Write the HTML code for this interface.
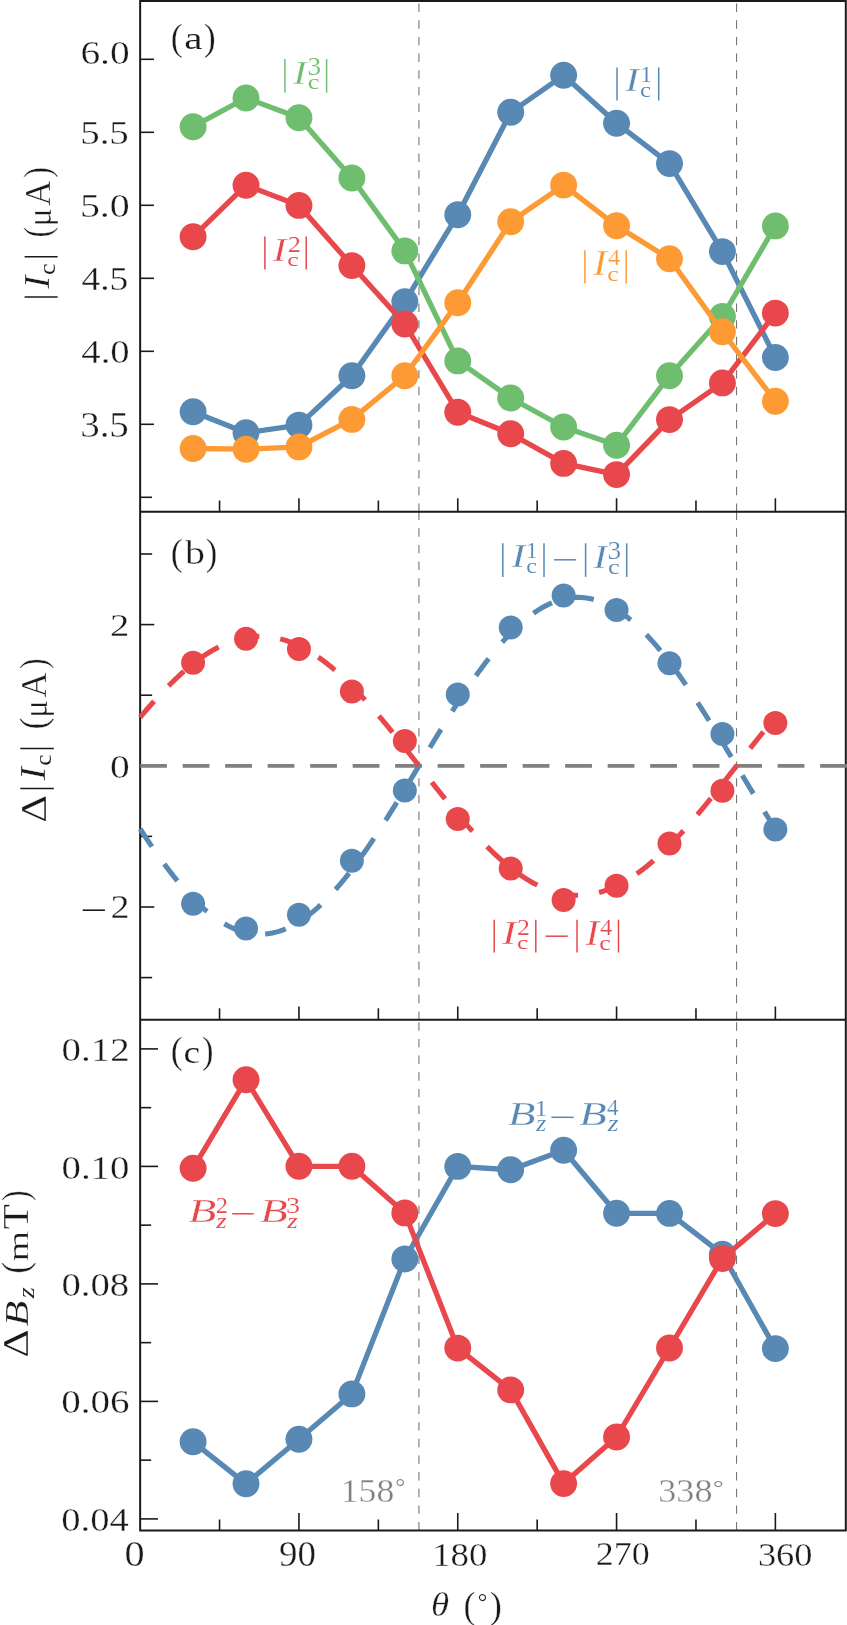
<!DOCTYPE html>
<html><head><meta charset="utf-8"><style>html,body{margin:0;padding:0;background:#fff;}svg{display:block;will-change:transform;font-family:"Liberation Serif",serif;}</style></head>
<body><svg width="847" height="1625" viewBox="0 0 847 1625">
<rect width="847" height="1625" fill="#fff"/>
<defs>
<clipPath id="ca"><rect x="140.15" y="1.0" width="705.65" height="510.8"/></clipPath>
<clipPath id="cb"><rect x="140.15" y="511.8" width="705.65" height="507.99999999999994"/></clipPath>
<clipPath id="cc"><rect x="140.15" y="1019.8" width="705.65" height="510.70000000000005"/></clipPath>
</defs>
<g clip-path="url(#ca)">
<line x1="418.94" y1="511.8" x2="418.94" y2="1.0" stroke="#777" stroke-width="1.1" stroke-dasharray="8.4 8.26"/>
<line x1="736.55" y1="511.8" x2="736.55" y2="1.0" stroke="#777" stroke-width="1.1" stroke-dasharray="8.4 8.26"/>
<polyline points="193.09,411.80 246.02,432.70 298.96,425.10 351.89,375.80 404.83,301.60 457.76,214.80 510.70,112.30 563.63,75.30 616.56,123.20 669.50,163.60 722.43,251.60 775.37,357.50" fill="none" stroke="#5889b4" stroke-width="5.3" stroke-linejoin="round" stroke-linecap="butt"/>
<circle cx="193.09" cy="411.80" r="13.45" fill="#5889b4"/>
<circle cx="246.02" cy="432.70" r="13.45" fill="#5889b4"/>
<circle cx="298.96" cy="425.10" r="13.45" fill="#5889b4"/>
<circle cx="351.89" cy="375.80" r="13.45" fill="#5889b4"/>
<circle cx="404.83" cy="301.60" r="13.45" fill="#5889b4"/>
<circle cx="457.76" cy="214.80" r="13.45" fill="#5889b4"/>
<circle cx="510.70" cy="112.30" r="13.45" fill="#5889b4"/>
<circle cx="563.63" cy="75.30" r="13.45" fill="#5889b4"/>
<circle cx="616.56" cy="123.20" r="13.45" fill="#5889b4"/>
<circle cx="669.50" cy="163.60" r="13.45" fill="#5889b4"/>
<circle cx="722.43" cy="251.60" r="13.45" fill="#5889b4"/>
<circle cx="775.37" cy="357.50" r="13.45" fill="#5889b4"/>
<polyline points="193.09,236.80 246.02,185.20 298.96,205.40 351.89,265.60 404.83,324.00 457.76,412.20 510.70,433.70 563.63,463.40 616.56,474.60 669.50,419.60 722.43,382.90 775.37,313.10" fill="none" stroke="#e8474c" stroke-width="5.3" stroke-linejoin="round" stroke-linecap="butt"/>
<circle cx="193.09" cy="236.80" r="13.45" fill="#e8474c"/>
<circle cx="246.02" cy="185.20" r="13.45" fill="#e8474c"/>
<circle cx="298.96" cy="205.40" r="13.45" fill="#e8474c"/>
<circle cx="351.89" cy="265.60" r="13.45" fill="#e8474c"/>
<circle cx="404.83" cy="324.00" r="13.45" fill="#e8474c"/>
<circle cx="457.76" cy="412.20" r="13.45" fill="#e8474c"/>
<circle cx="510.70" cy="433.70" r="13.45" fill="#e8474c"/>
<circle cx="563.63" cy="463.40" r="13.45" fill="#e8474c"/>
<circle cx="616.56" cy="474.60" r="13.45" fill="#e8474c"/>
<circle cx="669.50" cy="419.60" r="13.45" fill="#e8474c"/>
<circle cx="722.43" cy="382.90" r="13.45" fill="#e8474c"/>
<circle cx="775.37" cy="313.10" r="13.45" fill="#e8474c"/>
<polyline points="193.09,126.70 246.02,98.00 298.96,117.80 351.89,178.00 404.83,250.90 457.76,360.90 510.70,398.00 563.63,427.00 616.56,445.20 669.50,375.70 722.43,316.50 775.37,225.90" fill="none" stroke="#6fbd6e" stroke-width="5.3" stroke-linejoin="round" stroke-linecap="butt"/>
<circle cx="193.09" cy="126.70" r="13.45" fill="#6fbd6e"/>
<circle cx="246.02" cy="98.00" r="13.45" fill="#6fbd6e"/>
<circle cx="298.96" cy="117.80" r="13.45" fill="#6fbd6e"/>
<circle cx="351.89" cy="178.00" r="13.45" fill="#6fbd6e"/>
<circle cx="404.83" cy="250.90" r="13.45" fill="#6fbd6e"/>
<circle cx="457.76" cy="360.90" r="13.45" fill="#6fbd6e"/>
<circle cx="510.70" cy="398.00" r="13.45" fill="#6fbd6e"/>
<circle cx="563.63" cy="427.00" r="13.45" fill="#6fbd6e"/>
<circle cx="616.56" cy="445.20" r="13.45" fill="#6fbd6e"/>
<circle cx="669.50" cy="375.70" r="13.45" fill="#6fbd6e"/>
<circle cx="722.43" cy="316.50" r="13.45" fill="#6fbd6e"/>
<circle cx="775.37" cy="225.90" r="13.45" fill="#6fbd6e"/>
<polyline points="193.09,448.50 246.02,449.20 298.96,446.90 351.89,419.40 404.83,375.80 457.76,302.70 510.70,221.80 563.63,185.10 616.56,225.80 669.50,258.80 722.43,331.80 775.37,401.20" fill="none" stroke="#fd9a34" stroke-width="5.3" stroke-linejoin="round" stroke-linecap="butt"/>
<circle cx="193.09" cy="448.50" r="13.45" fill="#fd9a34"/>
<circle cx="246.02" cy="449.20" r="13.45" fill="#fd9a34"/>
<circle cx="298.96" cy="446.90" r="13.45" fill="#fd9a34"/>
<circle cx="351.89" cy="419.40" r="13.45" fill="#fd9a34"/>
<circle cx="404.83" cy="375.80" r="13.45" fill="#fd9a34"/>
<circle cx="457.76" cy="302.70" r="13.45" fill="#fd9a34"/>
<circle cx="510.70" cy="221.80" r="13.45" fill="#fd9a34"/>
<circle cx="563.63" cy="185.10" r="13.45" fill="#fd9a34"/>
<circle cx="616.56" cy="225.80" r="13.45" fill="#fd9a34"/>
<circle cx="669.50" cy="258.80" r="13.45" fill="#fd9a34"/>
<circle cx="722.43" cy="331.80" r="13.45" fill="#fd9a34"/>
<circle cx="775.37" cy="401.20" r="13.45" fill="#fd9a34"/>
</g>
<g clip-path="url(#cb)">
<line x1="418.94" y1="1019.8" x2="418.94" y2="511.8" stroke="#777" stroke-width="1.1" stroke-dasharray="8.4 8.26"/>
<line x1="736.55" y1="1019.8" x2="736.55" y2="511.8" stroke="#777" stroke-width="1.1" stroke-dasharray="8.4 8.26"/>
</g>
<g clip-path="url(#cc)">
<line x1="418.94" y1="1530.5" x2="418.94" y2="1019.8" stroke="#777" stroke-width="1.1" stroke-dasharray="8.4 8.26"/>
<line x1="736.55" y1="1530.5" x2="736.55" y2="1019.8" stroke="#777" stroke-width="1.1" stroke-dasharray="8.4 8.26"/>
<polyline points="193.09,1441.80 246.02,1483.80 298.96,1439.20 351.89,1393.90 404.83,1259.00 457.76,1166.40 510.70,1169.80 563.63,1150.20 616.56,1213.30 669.50,1213.40 722.43,1254.20 775.37,1348.60" fill="none" stroke="#5889b4" stroke-width="5.3" stroke-linejoin="round" stroke-linecap="butt"/>
<circle cx="193.09" cy="1441.80" r="13.45" fill="#5889b4"/>
<circle cx="246.02" cy="1483.80" r="13.45" fill="#5889b4"/>
<circle cx="298.96" cy="1439.20" r="13.45" fill="#5889b4"/>
<circle cx="351.89" cy="1393.90" r="13.45" fill="#5889b4"/>
<circle cx="404.83" cy="1259.00" r="13.45" fill="#5889b4"/>
<circle cx="457.76" cy="1166.40" r="13.45" fill="#5889b4"/>
<circle cx="510.70" cy="1169.80" r="13.45" fill="#5889b4"/>
<circle cx="563.63" cy="1150.20" r="13.45" fill="#5889b4"/>
<circle cx="616.56" cy="1213.30" r="13.45" fill="#5889b4"/>
<circle cx="669.50" cy="1213.40" r="13.45" fill="#5889b4"/>
<circle cx="722.43" cy="1254.20" r="13.45" fill="#5889b4"/>
<circle cx="775.37" cy="1348.60" r="13.45" fill="#5889b4"/>
<polyline points="193.09,1168.30 246.02,1079.70 298.96,1166.30 351.89,1166.30 404.83,1212.90 457.76,1348.10 510.70,1389.90 563.63,1483.60 616.56,1437.00 669.50,1348.00 722.43,1258.50 775.37,1213.60" fill="none" stroke="#e8474c" stroke-width="5.3" stroke-linejoin="round" stroke-linecap="butt"/>
<circle cx="193.09" cy="1168.30" r="13.45" fill="#e8474c"/>
<circle cx="246.02" cy="1079.70" r="13.45" fill="#e8474c"/>
<circle cx="298.96" cy="1166.30" r="13.45" fill="#e8474c"/>
<circle cx="351.89" cy="1166.30" r="13.45" fill="#e8474c"/>
<circle cx="404.83" cy="1212.90" r="13.45" fill="#e8474c"/>
<circle cx="457.76" cy="1348.10" r="13.45" fill="#e8474c"/>
<circle cx="510.70" cy="1389.90" r="13.45" fill="#e8474c"/>
<circle cx="563.63" cy="1483.60" r="13.45" fill="#e8474c"/>
<circle cx="616.56" cy="1437.00" r="13.45" fill="#e8474c"/>
<circle cx="669.50" cy="1348.00" r="13.45" fill="#e8474c"/>
<circle cx="722.43" cy="1258.50" r="13.45" fill="#e8474c"/>
<circle cx="775.37" cy="1213.60" r="13.45" fill="#e8474c"/>
</g>
<path d="M140.15,1.0 H845.8 V1530.5 H140.15 Z M140.15,511.8 H845.8 M140.15,1019.8 H845.8" fill="none" stroke="#1a1a1a" stroke-width="2.0"/>
<line x1="140.15" y1="424.30" x2="153.95" y2="424.30" stroke="#1a1a1a" stroke-width="1.6"/>
<line x1="140.15" y1="351.30" x2="153.95" y2="351.30" stroke="#1a1a1a" stroke-width="1.6"/>
<line x1="140.15" y1="278.30" x2="153.95" y2="278.30" stroke="#1a1a1a" stroke-width="1.6"/>
<line x1="140.15" y1="205.30" x2="153.95" y2="205.30" stroke="#1a1a1a" stroke-width="1.6"/>
<line x1="140.15" y1="132.30" x2="153.95" y2="132.30" stroke="#1a1a1a" stroke-width="1.6"/>
<line x1="140.15" y1="59.30" x2="153.95" y2="59.30" stroke="#1a1a1a" stroke-width="1.6"/>
<line x1="140.15" y1="497.30" x2="151.95" y2="497.30" stroke="#1a1a1a" stroke-width="1.6"/>
<line x1="140.15" y1="907.00" x2="154.25" y2="907.00" stroke="#1a1a1a" stroke-width="1.6"/>
<line x1="140.15" y1="765.80" x2="154.25" y2="765.80" stroke="#1a1a1a" stroke-width="1.6"/>
<line x1="140.15" y1="624.60" x2="154.25" y2="624.60" stroke="#1a1a1a" stroke-width="1.6"/>
<line x1="140.15" y1="977.60" x2="152.15" y2="977.60" stroke="#1a1a1a" stroke-width="1.6"/>
<line x1="140.15" y1="836.40" x2="152.15" y2="836.40" stroke="#1a1a1a" stroke-width="1.6"/>
<line x1="140.15" y1="695.20" x2="152.15" y2="695.20" stroke="#1a1a1a" stroke-width="1.6"/>
<line x1="140.15" y1="554.00" x2="152.15" y2="554.00" stroke="#1a1a1a" stroke-width="1.6"/>
<line x1="140.15" y1="1518.90" x2="158.05" y2="1518.90" stroke="#1a1a1a" stroke-width="1.6"/>
<line x1="140.15" y1="1401.40" x2="158.05" y2="1401.40" stroke="#1a1a1a" stroke-width="1.6"/>
<line x1="140.15" y1="1283.90" x2="158.05" y2="1283.90" stroke="#1a1a1a" stroke-width="1.6"/>
<line x1="140.15" y1="1166.40" x2="158.05" y2="1166.40" stroke="#1a1a1a" stroke-width="1.6"/>
<line x1="140.15" y1="1048.90" x2="158.05" y2="1048.90" stroke="#1a1a1a" stroke-width="1.6"/>
<line x1="140.15" y1="1460.15" x2="151.15" y2="1460.15" stroke="#1a1a1a" stroke-width="1.6"/>
<line x1="140.15" y1="1342.65" x2="151.15" y2="1342.65" stroke="#1a1a1a" stroke-width="1.6"/>
<line x1="140.15" y1="1225.15" x2="151.15" y2="1225.15" stroke="#1a1a1a" stroke-width="1.6"/>
<line x1="140.15" y1="1107.65" x2="151.15" y2="1107.65" stroke="#1a1a1a" stroke-width="1.6"/>
<line x1="298.96" y1="511.8" x2="298.96" y2="498.30" stroke="#1a1a1a" stroke-width="1.6"/>
<line x1="457.76" y1="511.8" x2="457.76" y2="498.30" stroke="#1a1a1a" stroke-width="1.6"/>
<line x1="616.56" y1="511.8" x2="616.56" y2="498.30" stroke="#1a1a1a" stroke-width="1.6"/>
<line x1="775.37" y1="511.8" x2="775.37" y2="498.30" stroke="#1a1a1a" stroke-width="1.6"/>
<line x1="219.55" y1="511.8" x2="219.55" y2="500.50" stroke="#1a1a1a" stroke-width="1.6"/>
<line x1="378.36" y1="511.8" x2="378.36" y2="500.50" stroke="#1a1a1a" stroke-width="1.6"/>
<line x1="537.16" y1="511.8" x2="537.16" y2="500.50" stroke="#1a1a1a" stroke-width="1.6"/>
<line x1="695.97" y1="511.8" x2="695.97" y2="500.50" stroke="#1a1a1a" stroke-width="1.6"/>
<line x1="298.96" y1="1019.8" x2="298.96" y2="1006.50" stroke="#1a1a1a" stroke-width="1.6"/>
<line x1="457.76" y1="1019.8" x2="457.76" y2="1006.50" stroke="#1a1a1a" stroke-width="1.6"/>
<line x1="616.56" y1="1019.8" x2="616.56" y2="1006.50" stroke="#1a1a1a" stroke-width="1.6"/>
<line x1="775.37" y1="1019.8" x2="775.37" y2="1006.50" stroke="#1a1a1a" stroke-width="1.6"/>
<line x1="219.55" y1="1019.8" x2="219.55" y2="1008.30" stroke="#1a1a1a" stroke-width="1.6"/>
<line x1="378.36" y1="1019.8" x2="378.36" y2="1008.30" stroke="#1a1a1a" stroke-width="1.6"/>
<line x1="537.16" y1="1019.8" x2="537.16" y2="1008.30" stroke="#1a1a1a" stroke-width="1.6"/>
<line x1="695.97" y1="1019.8" x2="695.97" y2="1008.30" stroke="#1a1a1a" stroke-width="1.6"/>
<line x1="298.96" y1="1530.5" x2="298.96" y2="1513.00" stroke="#1a1a1a" stroke-width="1.6"/>
<line x1="457.76" y1="1530.5" x2="457.76" y2="1513.00" stroke="#1a1a1a" stroke-width="1.6"/>
<line x1="616.56" y1="1530.5" x2="616.56" y2="1513.00" stroke="#1a1a1a" stroke-width="1.6"/>
<line x1="775.37" y1="1530.5" x2="775.37" y2="1513.00" stroke="#1a1a1a" stroke-width="1.6"/>
<line x1="219.55" y1="1530.5" x2="219.55" y2="1519.50" stroke="#1a1a1a" stroke-width="1.6"/>
<line x1="378.36" y1="1530.5" x2="378.36" y2="1519.50" stroke="#1a1a1a" stroke-width="1.6"/>
<line x1="537.16" y1="1530.5" x2="537.16" y2="1519.50" stroke="#1a1a1a" stroke-width="1.6"/>
<line x1="695.97" y1="1530.5" x2="695.97" y2="1519.50" stroke="#1a1a1a" stroke-width="1.6"/>
<clipPath id="cb2"><rect x="130" y="512.8" width="717" height="505.99999999999994"/></clipPath>
<g clip-path="url(#cb2)">
<line x1="140.15" y1="765.8" x2="847" y2="765.8" stroke="#808080" stroke-width="3.7" stroke-dasharray="26.8 15.7"/>
<polyline points="140.15,828.89 141.03,830.25 141.91,831.60 142.80,832.95 143.68,834.30 144.56,835.64 145.44,836.97 146.33,838.30 147.21,839.63 148.09,840.94 148.97,842.26 149.85,843.56 150.74,844.86 151.62,846.16 152.50,847.45 153.38,848.73 154.27,850.00 155.15,851.27 156.03,852.54 156.91,853.79 157.80,855.04 158.68,856.29 159.56,857.52 160.44,858.75 161.32,859.97 162.21,861.19 163.09,862.40 163.97,863.60 164.85,864.79 165.74,865.97 166.62,867.15 167.50,868.32 168.38,869.48 169.26,870.64 170.15,871.78 171.03,872.92 171.91,874.05 172.79,875.17 173.68,876.29 174.56,877.39 175.44,878.49 176.32,879.58 177.20,880.66 178.09,881.73 178.97,882.79 179.85,883.84 180.73,884.88 181.62,885.92 182.50,886.94 183.38,887.96 184.26,888.97 185.14,889.96 186.03,890.95 186.91,891.93 187.79,892.90 188.67,893.86 189.56,894.81 190.44,895.75 191.32,896.68 192.20,897.60 193.09,898.51 193.97,899.41 194.85,900.30 195.73,901.18 196.61,902.05 197.50,902.91 198.38,903.75 199.26,904.59 200.14,905.42 201.03,906.23 201.91,907.04 202.79,907.84 203.67,908.62 204.55,909.39 205.44,910.16 206.32,910.91 207.20,911.65 208.08,912.38 208.97,913.09 209.85,913.80 210.73,914.50 211.61,915.18 212.49,915.85 213.38,916.52 214.26,917.17 215.14,917.80 216.02,918.43 216.91,919.05 217.79,919.65 218.67,920.24 219.55,920.82 220.43,921.39 221.32,921.95 222.20,922.49 223.08,923.02 223.96,923.54 224.85,924.05 225.73,924.55 226.61,925.03 227.49,925.51 228.38,925.97 229.26,926.42 230.14,926.85 231.02,927.27 231.90,927.69 232.79,928.08 233.67,928.47 234.55,928.85 235.43,929.21 236.32,929.56 237.20,929.89 238.08,930.22 238.96,930.53 239.84,930.83 240.73,931.12 241.61,931.39 242.49,931.65 243.37,931.90 244.26,932.14 245.14,932.36 246.02,932.57 246.90,932.77 247.78,932.95 248.67,933.13 249.55,933.29 250.43,933.43 251.31,933.57 252.20,933.69 253.08,933.80 253.96,933.90 254.84,933.98 255.72,934.05 256.61,934.11 257.49,934.15 258.37,934.18 259.25,934.20 260.14,934.21 261.02,934.20 261.90,934.18 262.78,934.15 263.67,934.11 264.55,934.05 265.43,933.98 266.31,933.90 267.19,933.80 268.08,933.69 268.96,933.57 269.84,933.43 270.72,933.29 271.61,933.13 272.49,932.95 273.37,932.77 274.25,932.57 275.13,932.36 276.02,932.14 276.90,931.90 277.78,931.65 278.66,931.39 279.55,931.12 280.43,930.83 281.31,930.53 282.19,930.22 283.07,929.89 283.96,929.56 284.84,929.21 285.72,928.85 286.60,928.47 287.49,928.08 288.37,927.69 289.25,927.27 290.13,926.85 291.01,926.42 291.90,925.97 292.78,925.51 293.66,925.03 294.54,924.55 295.43,924.05 296.31,923.54 297.19,923.02 298.07,922.49 298.96,921.95 299.84,921.39 300.72,920.82 301.60,920.24 302.48,919.65 303.37,919.05 304.25,918.43 305.13,917.80 306.01,917.17 306.90,916.52 307.78,915.85 308.66,915.18 309.54,914.50 310.42,913.80 311.31,913.09 312.19,912.38 313.07,911.65 313.95,910.91 314.84,910.16 315.72,909.39 316.60,908.62 317.48,907.84 318.36,907.04 319.25,906.23 320.13,905.42 321.01,904.59 321.89,903.75 322.78,902.91 323.66,902.05 324.54,901.18 325.42,900.30 326.30,899.41 327.19,898.51 328.07,897.60 328.95,896.68 329.83,895.75 330.72,894.81 331.60,893.86 332.48,892.90 333.36,891.93 334.25,890.95 335.13,889.96 336.01,888.97 336.89,887.96 337.77,886.94 338.66,885.92 339.54,884.88 340.42,883.84 341.30,882.79 342.19,881.73 343.07,880.66 343.95,879.58 344.83,878.49 345.71,877.39 346.60,876.29 347.48,875.17 348.36,874.05 349.24,872.92 350.13,871.78 351.01,870.64 351.89,869.48 352.77,868.32 353.65,867.15 354.54,865.97 355.42,864.79 356.30,863.60 357.18,862.40 358.07,861.19 358.95,859.97 359.83,858.75 360.71,857.52 361.59,856.29 362.48,855.04 363.36,853.79 364.24,852.54 365.12,851.27 366.01,850.00 366.89,848.73 367.77,847.45 368.65,846.16 369.53,844.86 370.42,843.56 371.30,842.26 372.18,840.94 373.06,839.63 373.95,838.30 374.83,836.97 375.71,835.64 376.59,834.30 377.48,832.95 378.36,831.60 379.24,830.25 380.12,828.89 381.00,827.52 381.89,826.15 382.77,824.78 383.65,823.40 384.53,822.02 385.42,820.63 386.30,819.24 387.18,817.84 388.06,816.44 388.94,815.04 389.83,813.63 390.71,812.22 391.59,810.81 392.47,809.39 393.36,807.97 394.24,806.54 395.12,805.11 396.00,803.68 396.88,802.25 397.77,800.81 398.65,799.38 399.53,797.93 400.41,796.49 401.30,795.04 402.18,793.60 403.06,792.15 403.94,790.69 404.83,789.24 405.71,787.78 406.59,786.32 407.47,784.86 408.35,783.40 409.24,781.94 410.12,780.48 411.00,779.01 411.88,777.55 412.77,776.08 413.65,774.61 414.53,773.15 415.41,771.68 416.29,770.21 417.18,768.74 418.06,767.27 418.94,765.80 419.82,764.33 420.71,762.86 421.59,761.39 422.47,759.92 423.35,758.45 424.23,756.99 425.12,755.52 426.00,754.05 426.88,752.59 427.76,751.12 428.65,749.66 429.53,748.20 430.41,746.74 431.29,745.28 432.17,743.82 433.06,742.36 433.94,740.91 434.82,739.45 435.70,738.00 436.59,736.56 437.47,735.11 438.35,733.67 439.23,732.22 440.12,730.79 441.00,729.35 441.88,727.92 442.76,726.49 443.64,725.06 444.53,723.63 445.41,722.21 446.29,720.79 447.17,719.38 448.06,717.97 448.94,716.56 449.82,715.16 450.70,713.76 451.58,712.36 452.47,710.97 453.35,709.58 454.23,708.20 455.11,706.82 456.00,705.45 456.88,704.08 457.76,702.71 458.64,701.35 459.52,700.00 460.41,698.65 461.29,697.30 462.17,695.96 463.05,694.63 463.94,693.30 464.82,691.97 465.70,690.66 466.58,689.34 467.46,688.04 468.35,686.74 469.23,685.44 470.11,684.15 470.99,682.87 471.88,681.60 472.76,680.33 473.64,679.06 474.52,677.81 475.40,676.56 476.29,675.31 477.17,674.08 478.05,672.85 478.93,671.63 479.82,670.41 480.70,669.20 481.58,668.00 482.46,666.81 483.35,665.63 484.23,664.45 485.11,663.28 485.99,662.12 486.87,660.96 487.76,659.82 488.64,658.68 489.52,657.55 490.40,656.43 491.29,655.31 492.17,654.21 493.05,653.11 493.93,652.02 494.81,650.94 495.70,649.87 496.58,648.81 497.46,647.76 498.34,646.72 499.23,645.68 500.11,644.66 500.99,643.64 501.87,642.63 502.75,641.64 503.64,640.65 504.52,639.67 505.40,638.70 506.28,637.74 507.17,636.79 508.05,635.85 508.93,634.92 509.81,634.00 510.70,633.09 511.58,632.19 512.46,631.30 513.34,630.42 514.22,629.55 515.11,628.69 515.99,627.85 516.87,627.01 517.75,626.18 518.64,625.37 519.52,624.56 520.40,623.76 521.28,622.98 522.16,622.21 523.05,621.44 523.93,620.69 524.81,619.95 525.69,619.22 526.58,618.51 527.46,617.80 528.34,617.10 529.22,616.42 530.10,615.75 530.99,615.08 531.87,614.43 532.75,613.80 533.63,613.17 534.52,612.55 535.40,611.95 536.28,611.36 537.16,610.78 538.04,610.21 538.93,609.65 539.81,609.11 540.69,608.58 541.57,608.06 542.46,607.55 543.34,607.05 544.22,606.57 545.10,606.09 545.99,605.63 546.87,605.18 547.75,604.75 548.63,604.33 549.51,603.91 550.40,603.52 551.28,603.13 552.16,602.75 553.04,602.39 553.93,602.04 554.81,601.71 555.69,601.38 556.57,601.07 557.45,600.77 558.34,600.48 559.22,600.21 560.10,599.95 560.98,599.70 561.87,599.46 562.75,599.24 563.63,599.03 564.51,598.83 565.39,598.65 566.28,598.47 567.16,598.31 568.04,598.17 568.92,598.03 569.81,597.91 570.69,597.80 571.57,597.70 572.45,597.62 573.33,597.55 574.22,597.49 575.10,597.45 575.98,597.42 576.86,597.40 577.75,597.39 578.63,597.40 579.51,597.42 580.39,597.45 581.27,597.49 582.16,597.55 583.04,597.62 583.92,597.70 584.80,597.80 585.69,597.91 586.57,598.03 587.45,598.17 588.33,598.31 589.22,598.47 590.10,598.65 590.98,598.83 591.86,599.03 592.74,599.24 593.63,599.46 594.51,599.70 595.39,599.95 596.27,600.21 597.16,600.48 598.04,600.77 598.92,601.07 599.80,601.38 600.68,601.71 601.57,602.04 602.45,602.39 603.33,602.75 604.21,603.13 605.10,603.52 605.98,603.91 606.86,604.33 607.74,604.75 608.62,605.18 609.51,605.63 610.39,606.09 611.27,606.57 612.15,607.05 613.04,607.55 613.92,608.06 614.80,608.58 615.68,609.11 616.56,609.65 617.45,610.21 618.33,610.78 619.21,611.36 620.09,611.95 620.98,612.55 621.86,613.17 622.74,613.80 623.62,614.43 624.51,615.08 625.39,615.75 626.27,616.42 627.15,617.10 628.03,617.80 628.92,618.51 629.80,619.22 630.68,619.95 631.56,620.69 632.45,621.44 633.33,622.21 634.21,622.98 635.09,623.76 635.97,624.56 636.86,625.37 637.74,626.18 638.62,627.01 639.50,627.85 640.39,628.69 641.27,629.55 642.15,630.42 643.03,631.30 643.91,632.19 644.80,633.09 645.68,634.00 646.56,634.92 647.44,635.85 648.33,636.79 649.21,637.74 650.09,638.70 650.97,639.67 651.86,640.65 652.74,641.64 653.62,642.63 654.50,643.64 655.38,644.66 656.27,645.68 657.15,646.72 658.03,647.76 658.91,648.81 659.80,649.87 660.68,650.94 661.56,652.02 662.44,653.11 663.32,654.21 664.21,655.31 665.09,656.43 665.97,657.55 666.85,658.68 667.74,659.82 668.62,660.96 669.50,662.12 670.38,663.28 671.26,664.45 672.15,665.63 673.03,666.81 673.91,668.00 674.79,669.20 675.68,670.41 676.56,671.63 677.44,672.85 678.32,674.08 679.20,675.31 680.09,676.56 680.97,677.81 681.85,679.06 682.73,680.33 683.62,681.60 684.50,682.87 685.38,684.15 686.26,685.44 687.14,686.74 688.03,688.04 688.91,689.34 689.79,690.66 690.67,691.97 691.56,693.30 692.44,694.63 693.32,695.96 694.20,697.30 695.09,698.65 695.97,700.00 696.85,701.35 697.73,702.71 698.61,704.08 699.50,705.45 700.38,706.82 701.26,708.20 702.14,709.58 703.03,710.97 703.91,712.36 704.79,713.76 705.67,715.16 706.55,716.56 707.44,717.97 708.32,719.38 709.20,720.79 710.08,722.21 710.97,723.63 711.85,725.06 712.73,726.49 713.61,727.92 714.49,729.35 715.38,730.79 716.26,732.22 717.14,733.67 718.02,735.11 718.91,736.56 719.79,738.00 720.67,739.45 721.55,740.91 722.43,742.36 723.32,743.82 724.20,745.28 725.08,746.74 725.96,748.20 726.85,749.66 727.73,751.12 728.61,752.59 729.49,754.05 730.38,755.52 731.26,756.99 732.14,758.45 733.02,759.92 733.90,761.39 734.79,762.86 735.67,764.33 736.55,765.80 737.43,767.27 738.32,768.74 739.20,770.21 740.08,771.68 740.96,773.15 741.84,774.61 742.73,776.08 743.61,777.55 744.49,779.01 745.37,780.48 746.26,781.94 747.14,783.40 748.02,784.86 748.90,786.32 749.78,787.78 750.67,789.24 751.55,790.69 752.43,792.15 753.31,793.60 754.20,795.04 755.08,796.49 755.96,797.93 756.84,799.38 757.72,800.81 758.61,802.25 759.49,803.68 760.37,805.11 761.25,806.54 762.14,807.97 763.02,809.39 763.90,810.81 764.78,812.22 765.67,813.63 766.55,815.04 767.43,816.44 768.31,817.84 769.19,819.24 770.08,820.63 770.96,822.02 771.84,823.40 772.72,824.78 773.61,826.15 774.49,827.52 775.37,828.89" fill="none" stroke="#5889b4" stroke-width="5.1" stroke-dasharray="21.33 21.33"/>
<circle cx="193.09" cy="903.80" r="12.0" fill="#5889b4"/>
<circle cx="246.02" cy="928.60" r="12.0" fill="#5889b4"/>
<circle cx="298.96" cy="914.70" r="12.0" fill="#5889b4"/>
<circle cx="351.89" cy="860.80" r="12.0" fill="#5889b4"/>
<circle cx="404.83" cy="790.40" r="12.0" fill="#5889b4"/>
<circle cx="457.76" cy="694.60" r="12.0" fill="#5889b4"/>
<circle cx="510.70" cy="627.40" r="12.0" fill="#5889b4"/>
<circle cx="563.63" cy="595.40" r="12.0" fill="#5889b4"/>
<circle cx="616.56" cy="609.90" r="12.0" fill="#5889b4"/>
<circle cx="669.50" cy="663.20" r="12.0" fill="#5889b4"/>
<circle cx="722.43" cy="733.90" r="12.0" fill="#5889b4"/>
<circle cx="775.37" cy="829.60" r="12.0" fill="#5889b4"/>
<polyline points="140.15,717.29 141.03,716.24 141.91,715.20 142.80,714.16 143.68,713.13 144.56,712.10 145.44,711.07 146.33,710.05 147.21,709.03 148.09,708.02 148.97,707.01 149.85,706.01 150.74,705.01 151.62,704.01 152.50,703.02 153.38,702.03 154.27,701.05 155.15,700.08 156.03,699.11 156.91,698.14 157.80,697.18 158.68,696.22 159.56,695.27 160.44,694.33 161.32,693.39 162.21,692.45 163.09,691.53 163.97,690.60 164.85,689.69 165.74,688.77 166.62,687.87 167.50,686.97 168.38,686.08 169.26,685.19 170.15,684.31 171.03,683.43 171.91,682.56 172.79,681.70 173.68,680.84 174.56,679.99 175.44,679.15 176.32,678.32 177.20,677.49 178.09,676.66 178.97,675.85 179.85,675.04 180.73,674.23 181.62,673.44 182.50,672.65 183.38,671.87 184.26,671.09 185.14,670.33 186.03,669.57 186.91,668.81 187.79,668.07 188.67,667.33 189.56,666.60 190.44,665.88 191.32,665.16 192.20,664.46 193.09,663.76 193.97,663.07 194.85,662.38 195.73,661.71 196.61,661.04 197.50,660.38 198.38,659.72 199.26,659.08 200.14,658.44 201.03,657.82 201.91,657.20 202.79,656.59 203.67,655.98 204.55,655.39 205.44,654.80 206.32,654.22 207.20,653.65 208.08,653.09 208.97,652.54 209.85,652.00 210.73,651.46 211.61,650.94 212.49,650.42 213.38,649.91 214.26,649.41 215.14,648.92 216.02,648.44 216.91,647.97 217.79,647.50 218.67,647.05 219.55,646.60 220.43,646.16 221.32,645.74 222.20,645.32 223.08,644.91 223.96,644.51 224.85,644.12 225.73,643.73 226.61,643.36 227.49,643.00 228.38,642.64 229.26,642.30 230.14,641.96 231.02,641.64 231.90,641.32 232.79,641.02 233.67,640.72 234.55,640.43 235.43,640.15 236.32,639.88 237.20,639.62 238.08,639.38 238.96,639.14 239.84,638.91 240.73,638.69 241.61,638.47 242.49,638.27 243.37,638.08 244.26,637.90 245.14,637.73 246.02,637.57 246.90,637.41 247.78,637.27 248.67,637.14 249.55,637.02 250.43,636.90 251.31,636.80 252.20,636.71 253.08,636.62 253.96,636.55 254.84,636.48 255.72,636.43 256.61,636.38 257.49,636.35 258.37,636.33 259.25,636.31 260.14,636.31 261.02,636.31 261.90,636.33 262.78,636.35 263.67,636.38 264.55,636.43 265.43,636.48 266.31,636.55 267.19,636.62 268.08,636.71 268.96,636.80 269.84,636.90 270.72,637.02 271.61,637.14 272.49,637.27 273.37,637.41 274.25,637.57 275.13,637.73 276.02,637.90 276.90,638.08 277.78,638.27 278.66,638.47 279.55,638.69 280.43,638.91 281.31,639.14 282.19,639.38 283.07,639.62 283.96,639.88 284.84,640.15 285.72,640.43 286.60,640.72 287.49,641.02 288.37,641.32 289.25,641.64 290.13,641.96 291.01,642.30 291.90,642.64 292.78,643.00 293.66,643.36 294.54,643.73 295.43,644.12 296.31,644.51 297.19,644.91 298.07,645.32 298.96,645.74 299.84,646.16 300.72,646.60 301.60,647.05 302.48,647.50 303.37,647.97 304.25,648.44 305.13,648.92 306.01,649.41 306.90,649.91 307.78,650.42 308.66,650.94 309.54,651.46 310.42,652.00 311.31,652.54 312.19,653.09 313.07,653.65 313.95,654.22 314.84,654.80 315.72,655.39 316.60,655.98 317.48,656.59 318.36,657.20 319.25,657.82 320.13,658.44 321.01,659.08 321.89,659.72 322.78,660.38 323.66,661.04 324.54,661.71 325.42,662.38 326.30,663.07 327.19,663.76 328.07,664.46 328.95,665.16 329.83,665.88 330.72,666.60 331.60,667.33 332.48,668.07 333.36,668.81 334.25,669.57 335.13,670.33 336.01,671.09 336.89,671.87 337.77,672.65 338.66,673.44 339.54,674.23 340.42,675.04 341.30,675.85 342.19,676.66 343.07,677.49 343.95,678.32 344.83,679.15 345.71,679.99 346.60,680.84 347.48,681.70 348.36,682.56 349.24,683.43 350.13,684.31 351.01,685.19 351.89,686.08 352.77,686.97 353.65,687.87 354.54,688.77 355.42,689.69 356.30,690.60 357.18,691.53 358.07,692.45 358.95,693.39 359.83,694.33 360.71,695.27 361.59,696.22 362.48,697.18 363.36,698.14 364.24,699.11 365.12,700.08 366.01,701.05 366.89,702.03 367.77,703.02 368.65,704.01 369.53,705.01 370.42,706.01 371.30,707.01 372.18,708.02 373.06,709.03 373.95,710.05 374.83,711.07 375.71,712.10 376.59,713.13 377.48,714.16 378.36,715.20 379.24,716.24 380.12,717.29 381.00,718.34 381.89,719.39 382.77,720.45 383.65,721.51 384.53,722.57 385.42,723.64 386.30,724.71 387.18,725.78 388.06,726.86 388.94,727.94 389.83,729.02 390.71,730.11 391.59,731.19 392.47,732.28 393.36,733.38 394.24,734.47 395.12,735.57 396.00,736.67 396.88,737.77 397.77,738.88 398.65,739.98 399.53,741.09 400.41,742.20 401.30,743.31 402.18,744.43 403.06,745.54 403.94,746.66 404.83,747.78 405.71,748.90 406.59,750.02 407.47,751.14 408.35,752.26 409.24,753.39 410.12,754.51 411.00,755.64 411.88,756.77 412.77,757.89 413.65,759.02 414.53,760.15 415.41,761.28 416.29,762.41 417.18,763.54 418.06,764.67 418.94,765.80 419.82,766.93 420.71,768.06 421.59,769.19 422.47,770.32 423.35,771.45 424.23,772.58 425.12,773.71 426.00,774.83 426.88,775.96 427.76,777.09 428.65,778.21 429.53,779.34 430.41,780.46 431.29,781.58 432.17,782.70 433.06,783.82 433.94,784.94 434.82,786.06 435.70,787.17 436.59,788.29 437.47,789.40 438.35,790.51 439.23,791.62 440.12,792.72 441.00,793.83 441.88,794.93 442.76,796.03 443.64,797.13 444.53,798.22 445.41,799.32 446.29,800.41 447.17,801.49 448.06,802.58 448.94,803.66 449.82,804.74 450.70,805.82 451.58,806.89 452.47,807.96 453.35,809.03 454.23,810.09 455.11,811.15 456.00,812.21 456.88,813.26 457.76,814.31 458.64,815.36 459.52,816.40 460.41,817.44 461.29,818.47 462.17,819.50 463.05,820.53 463.94,821.55 464.82,822.57 465.70,823.58 466.58,824.59 467.46,825.59 468.35,826.59 469.23,827.59 470.11,828.58 470.99,829.57 471.88,830.55 472.76,831.52 473.64,832.49 474.52,833.46 475.40,834.42 476.29,835.38 477.17,836.33 478.05,837.27 478.93,838.21 479.82,839.15 480.70,840.07 481.58,841.00 482.46,841.91 483.35,842.83 484.23,843.73 485.11,844.63 485.99,845.52 486.87,846.41 487.76,847.29 488.64,848.17 489.52,849.04 490.40,849.90 491.29,850.76 492.17,851.61 493.05,852.45 493.93,853.28 494.81,854.11 495.70,854.94 496.58,855.75 497.46,856.56 498.34,857.37 499.23,858.16 500.11,858.95 500.99,859.73 501.87,860.51 502.75,861.27 503.64,862.03 504.52,862.79 505.40,863.53 506.28,864.27 507.17,865.00 508.05,865.72 508.93,866.44 509.81,867.14 510.70,867.84 511.58,868.53 512.46,869.22 513.34,869.89 514.22,870.56 515.11,871.22 515.99,871.88 516.87,872.52 517.75,873.16 518.64,873.78 519.52,874.40 520.40,875.01 521.28,875.62 522.16,876.21 523.05,876.80 523.93,877.38 524.81,877.95 525.69,878.51 526.58,879.06 527.46,879.60 528.34,880.14 529.22,880.66 530.10,881.18 530.99,881.69 531.87,882.19 532.75,882.68 533.63,883.16 534.52,883.63 535.40,884.10 536.28,884.55 537.16,885.00 538.04,885.44 538.93,885.86 539.81,886.28 540.69,886.69 541.57,887.09 542.46,887.48 543.34,887.87 544.22,888.24 545.10,888.60 545.99,888.96 546.87,889.30 547.75,889.64 548.63,889.96 549.51,890.28 550.40,890.58 551.28,890.88 552.16,891.17 553.04,891.45 553.93,891.72 554.81,891.98 555.69,892.22 556.57,892.46 557.45,892.69 558.34,892.91 559.22,893.13 560.10,893.33 560.98,893.52 561.87,893.70 562.75,893.87 563.63,894.03 564.51,894.19 565.39,894.33 566.28,894.46 567.16,894.58 568.04,894.70 568.92,894.80 569.81,894.89 570.69,894.98 571.57,895.05 572.45,895.12 573.33,895.17 574.22,895.22 575.10,895.25 575.98,895.27 576.86,895.29 577.75,895.29 578.63,895.29 579.51,895.27 580.39,895.25 581.27,895.22 582.16,895.17 583.04,895.12 583.92,895.05 584.80,894.98 585.69,894.89 586.57,894.80 587.45,894.70 588.33,894.58 589.22,894.46 590.10,894.33 590.98,894.19 591.86,894.03 592.74,893.87 593.63,893.70 594.51,893.52 595.39,893.33 596.27,893.13 597.16,892.91 598.04,892.69 598.92,892.46 599.80,892.22 600.68,891.98 601.57,891.72 602.45,891.45 603.33,891.17 604.21,890.88 605.10,890.58 605.98,890.28 606.86,889.96 607.74,889.64 608.62,889.30 609.51,888.96 610.39,888.60 611.27,888.24 612.15,887.87 613.04,887.48 613.92,887.09 614.80,886.69 615.68,886.28 616.56,885.86 617.45,885.44 618.33,885.00 619.21,884.55 620.09,884.10 620.98,883.63 621.86,883.16 622.74,882.68 623.62,882.19 624.51,881.69 625.39,881.18 626.27,880.66 627.15,880.14 628.03,879.60 628.92,879.06 629.80,878.51 630.68,877.95 631.56,877.38 632.45,876.80 633.33,876.21 634.21,875.62 635.09,875.01 635.97,874.40 636.86,873.78 637.74,873.16 638.62,872.52 639.50,871.88 640.39,871.22 641.27,870.56 642.15,869.89 643.03,869.22 643.91,868.53 644.80,867.84 645.68,867.14 646.56,866.44 647.44,865.72 648.33,865.00 649.21,864.27 650.09,863.53 650.97,862.79 651.86,862.03 652.74,861.27 653.62,860.51 654.50,859.73 655.38,858.95 656.27,858.16 657.15,857.37 658.03,856.56 658.91,855.75 659.80,854.94 660.68,854.11 661.56,853.28 662.44,852.45 663.32,851.61 664.21,850.76 665.09,849.90 665.97,849.04 666.85,848.17 667.74,847.29 668.62,846.41 669.50,845.52 670.38,844.63 671.26,843.73 672.15,842.83 673.03,841.91 673.91,841.00 674.79,840.07 675.68,839.15 676.56,838.21 677.44,837.27 678.32,836.33 679.20,835.38 680.09,834.42 680.97,833.46 681.85,832.49 682.73,831.52 683.62,830.55 684.50,829.57 685.38,828.58 686.26,827.59 687.14,826.59 688.03,825.59 688.91,824.59 689.79,823.58 690.67,822.57 691.56,821.55 692.44,820.53 693.32,819.50 694.20,818.47 695.09,817.44 695.97,816.40 696.85,815.36 697.73,814.31 698.61,813.26 699.50,812.21 700.38,811.15 701.26,810.09 702.14,809.03 703.03,807.96 703.91,806.89 704.79,805.82 705.67,804.74 706.55,803.66 707.44,802.58 708.32,801.49 709.20,800.41 710.08,799.32 710.97,798.22 711.85,797.13 712.73,796.03 713.61,794.93 714.49,793.83 715.38,792.72 716.26,791.62 717.14,790.51 718.02,789.40 718.91,788.29 719.79,787.17 720.67,786.06 721.55,784.94 722.43,783.82 723.32,782.70 724.20,781.58 725.08,780.46 725.96,779.34 726.85,778.21 727.73,777.09 728.61,775.96 729.49,774.83 730.38,773.71 731.26,772.58 732.14,771.45 733.02,770.32 733.90,769.19 734.79,768.06 735.67,766.93 736.55,765.80 737.43,764.67 738.32,763.54 739.20,762.41 740.08,761.28 740.96,760.15 741.84,759.02 742.73,757.89 743.61,756.77 744.49,755.64 745.37,754.51 746.26,753.39 747.14,752.26 748.02,751.14 748.90,750.02 749.78,748.90 750.67,747.78 751.55,746.66 752.43,745.54 753.31,744.43 754.20,743.31 755.08,742.20 755.96,741.09 756.84,739.98 757.72,738.88 758.61,737.77 759.49,736.67 760.37,735.57 761.25,734.47 762.14,733.38 763.02,732.28 763.90,731.19 764.78,730.11 765.67,729.02 766.55,727.94 767.43,726.86 768.31,725.78 769.19,724.71 770.08,723.64 770.96,722.57 771.84,721.51 772.72,720.45 773.61,719.39 774.49,718.34 775.37,717.29" fill="none" stroke="#e8474c" stroke-width="5.1" stroke-dasharray="21.2 21.2"/>
<circle cx="193.09" cy="662.80" r="12.0" fill="#e8474c"/>
<circle cx="246.02" cy="638.70" r="12.0" fill="#e8474c"/>
<circle cx="298.96" cy="648.90" r="12.0" fill="#e8474c"/>
<circle cx="351.89" cy="691.50" r="12.0" fill="#e8474c"/>
<circle cx="404.83" cy="741.10" r="12.0" fill="#e8474c"/>
<circle cx="457.76" cy="818.90" r="12.0" fill="#e8474c"/>
<circle cx="510.70" cy="868.60" r="12.0" fill="#e8474c"/>
<circle cx="563.63" cy="900.00" r="12.0" fill="#e8474c"/>
<circle cx="616.56" cy="885.80" r="12.0" fill="#e8474c"/>
<circle cx="669.50" cy="843.50" r="12.0" fill="#e8474c"/>
<circle cx="722.43" cy="790.80" r="12.0" fill="#e8474c"/>
<circle cx="775.37" cy="723.10" r="12.0" fill="#e8474c"/>
</g>
<g transform="matrix(0.39402 0 0 0.33824 41.022 -3.424)"><text x="100" y="200" font-size="100" fill="#1a1a1a" stroke="#fff" stroke-width="0.96" style="">6.0</text></g>
<g transform="matrix(0.38957 0 0 0.34394 -75.663 75.668)"><text x="400" y="200" font-size="100" fill="#1a1a1a" stroke="#fff" stroke-width="0.94" style="">5.5</text></g>
<g transform="matrix(0.39913 0 0 0.33382 -199.486 150.368)"><text x="700" y="200" font-size="100" fill="#1a1a1a" stroke="#fff" stroke-width="0.94" style="">5.0</text></g>
<g transform="matrix(0.37563 0 0 0.32879 -294.182 224.214)"><text x="1000" y="200" font-size="100" fill="#1a1a1a" stroke="#fff" stroke-width="0.91" style="">4.5</text></g>
<g transform="matrix(0.38655 0 0 0.34412 -421.194 294.388)"><text x="1300" y="200" font-size="100" fill="#1a1a1a" stroke="#fff" stroke-width="0.96" style="">4.0</text></g>
<g transform="matrix(0.38966 0 0 0.34925 -543.297 366.700)"><text x="1600" y="200" font-size="100" fill="#1a1a1a" stroke="#fff" stroke-width="0.95" style="">3.5</text></g>
<g transform="matrix(0.38537 0 0 0.31045 -622.137 573.900)"><text x="1900" y="200" font-size="100" fill="#1a1a1a" stroke="#fff" stroke-width="0.86" style="">2</text></g>
<g transform="matrix(0.39524 0 0 0.32941 -759.505 711.759)"><text x="2200" y="200" font-size="100" fill="#1a1a1a" stroke="#fff" stroke-width="0.93" style="">0</text></g>
<g transform="matrix(0.38049 0 0 0.33134 -840.741 852.100)"><text x="2500" y="200" font-size="100" fill="#1a1a1a" stroke="#fff" stroke-width="0.93" style="">2</text></g>
<g transform="matrix(0.38916 0 0 0.32794 -1028.095 995.256)"><text x="2800" y="200" font-size="100" fill="#1a1a1a" stroke="#fff" stroke-width="0.93" style="">0.12</text></g>
<g transform="matrix(0.38802 0 0 0.33824 22.746 1009.406)"><text x="100" y="500" font-size="100" fill="#1a1a1a" stroke="#fff" stroke-width="0.96" style="">0.10</text></g>
<g transform="matrix(0.38743 0 0 0.34265 -93.520 1124.591)"><text x="400" y="500" font-size="100" fill="#1a1a1a" stroke="#fff" stroke-width="0.96" style="">0.08</text></g>
<g transform="matrix(0.39048 0 0 0.32941 -212.095 1248.235)"><text x="700" y="500" font-size="100" fill="#1a1a1a" stroke="#fff" stroke-width="0.93" style="">0.06</text></g>
<g transform="matrix(0.38588 0 0 0.32941 -324.626 1365.835)"><text x="1000" y="500" font-size="100" fill="#1a1a1a" stroke="#fff" stroke-width="0.94" style="">0.04</text></g>
<g transform="matrix(0.40238 0 0 0.35147 -398.605 1390.262)"><text x="1300" y="500" font-size="100" fill="#1a1a1a" stroke="#fff" stroke-width="0.93" style="">0</text></g>
<g transform="matrix(0.36882 0 0 0.35147 -311.114 1390.262)"><text x="1600" y="500" font-size="100" fill="#1a1a1a" stroke="#fff" stroke-width="0.97" style="">90</text></g>
<g transform="matrix(0.36861 0 0 0.33824 -268.182 1396.406)"><text x="1900" y="500" font-size="100" fill="#1a1a1a" stroke="#fff" stroke-width="0.99" style="">180</text></g>
<g transform="matrix(0.35986 0 0 0.34706 -195.830 1391.976)"><text x="2200" y="500" font-size="100" fill="#1a1a1a" stroke="#fff" stroke-width="0.99" style="">270</text></g>
<g transform="matrix(0.36454 0 0 0.34706 -153.470 1391.976)"><text x="2500" y="500" font-size="100" fill="#1a1a1a" stroke="#fff" stroke-width="0.98" style="">360</text></g>
<g transform="matrix(0.36154 0 0 0.37778 -841.454 -139.022)"><text x="2800" y="500" font-size="100" fill="#1a1a1a" stroke="#fff" stroke-width="0.95" style="">(</text></g>
<g transform="matrix(0.41250 0 0 0.32500 143.012 -211.025)"><text x="100" y="800" font-size="100" fill="#1a1a1a" stroke="#fff" stroke-width="0.48" style="">a</text></g>
<g transform="matrix(0.36154 0 0 0.37778 59.200 -252.356)"><text x="400" y="800" font-size="100" fill="#1a1a1a" stroke="#fff" stroke-width="0.95" style="">)</text></g>
<g transform="matrix(0.36154 0 0 0.37778 -82.223 262.844)"><text x="700" y="800" font-size="100" fill="#1a1a1a" stroke="#fff" stroke-width="0.95" style="">(</text></g>
<g transform="matrix(0.40000 0 0 0.33714 -215.000 294.449)"><text x="1000" y="800" font-size="100" fill="#1a1a1a" stroke="#fff" stroke-width="0.95" style="">b</text></g>
<g transform="matrix(0.34615 0 0 0.37778 -244.338 262.844)"><text x="1300" y="800" font-size="100" fill="#1a1a1a" stroke="#fff" stroke-width="0.97" style="">)</text></g>
<g transform="matrix(0.36154 0 0 0.37778 -407.608 760.944)"><text x="1600" y="800" font-size="100" fill="#1a1a1a" stroke="#fff" stroke-width="0.95" style="">(</text></g>
<g transform="matrix(0.37368 0 0 0.32292 -526.495 804.344)"><text x="1900" y="800" font-size="100" fill="#1a1a1a" stroke="#fff" stroke-width="0.50" style="">c</text></g>
<g transform="matrix(0.34615 0 0 0.37778 -559.577 760.944)"><text x="2200" y="800" font-size="100" fill="#1a1a1a" stroke="#fff" stroke-width="0.97" style="">)</text></g>
<g transform="matrix(0.41351 0 0 0.34394 -740.684 -191.595)"><text x="2500" y="800" font-size="100" fill="#6fbd6e" stroke="#fff" stroke-width="0.91" style="font-style:italic;">I</text></g>
<g transform="matrix(0.27317 0 0 0.24627 -457.444 -122.461)"><text x="2800" y="800" font-size="100" fill="#6fbd6e" stroke="#fff" stroke-width="0.76" style="">3</text></g>
<g transform="matrix(0.26316 0 0 0.21667 281.432 -148.850)"><text x="100" y="1100" font-size="100" fill="#6fbd6e" stroke="#fff" stroke-width="0.36" style="">c</text></g>
<g transform="matrix(0.41351 0 0 0.34545 107.295 -118.945)"><text x="400" y="1100" font-size="100" fill="#e8474c" stroke="#fff" stroke-width="0.91" style="font-style:italic;">I</text></g>
<g transform="matrix(0.26341 0 0 0.23433 103.356 -6.096)"><text x="700" y="1100" font-size="100" fill="#e8474c" stroke="#fff" stroke-width="0.72" style="">2</text></g>
<g transform="matrix(0.26053 0 0 0.18958 26.832 57.569)"><text x="1000" y="1100" font-size="100" fill="#e8474c" stroke="#fff" stroke-width="0.39" style="">c</text></g>
<g transform="matrix(0.41351 0 0 0.34394 87.632 -286.877)"><text x="1300" y="1100" font-size="100" fill="#5889b4" stroke="#fff" stroke-width="0.91" style="font-style:italic;">I</text></g>
<g transform="matrix(0.24857 0 0 0.23182 242.249 -172.700)"><text x="1600" y="1100" font-size="100" fill="#5889b4" stroke="#fff" stroke-width="0.71" style="">1</text></g>
<g transform="matrix(0.25000 0 0 0.21458 165.000 -138.656)"><text x="1900" y="1100" font-size="100" fill="#5889b4" stroke="#fff" stroke-width="0.38" style="">c</text></g>
<g transform="matrix(0.41351 0 0 0.35000 -316.630 -109.850)"><text x="2200" y="1100" font-size="100" fill="#fd9a34" stroke="#fff" stroke-width="0.92" style="font-style:italic;">I</text></g>
<g transform="matrix(0.24681 0 0 0.23788 -9.115 3.695)"><text x="2500" y="1100" font-size="100" fill="#fd9a34" stroke="#fff" stroke-width="0.74" style="">4</text></g>
<g transform="matrix(0.26053 0 0 0.21458 -122.116 44.644)"><text x="2800" y="1100" font-size="100" fill="#fd9a34" stroke="#fff" stroke-width="0.37" style="">c</text></g>
<g transform="matrix(0.42973 0 0 0.34394 468.327 85.841)"><text x="100" y="1400" font-size="100" fill="#5889b4" stroke="#fff" stroke-width="0.89" style="font-style:italic;">I</text></g>
<g transform="matrix(0.24000 0 0 0.23182 429.840 233.655)"><text x="400" y="1400" font-size="100" fill="#5889b4" stroke="#fff" stroke-width="0.72" style="">1</text></g>
<g transform="matrix(0.24211 0 0 0.21458 356.758 272.869)"><text x="700" y="1400" font-size="100" fill="#5889b4" stroke="#fff" stroke-width="0.38" style="">c</text></g>
<g transform="matrix(0.40541 0 0 0.34394 188.195 86.241)"><text x="1000" y="1400" font-size="100" fill="#5889b4" stroke="#fff" stroke-width="0.92" style="font-style:italic;">I</text></g>
<g transform="matrix(0.27317 0 0 0.24627 252.512 213.978)"><text x="1300" y="1400" font-size="100" fill="#5889b4" stroke="#fff" stroke-width="0.76" style="">3</text></g>
<g transform="matrix(0.26316 0 0 0.21667 186.895 270.350)"><text x="1600" y="1400" font-size="100" fill="#5889b4" stroke="#fff" stroke-width="0.36" style="">c</text></g>
<g transform="matrix(0.43243 0 0 0.34545 -319.522 460.518)"><text x="1900" y="1400" font-size="100" fill="#e8474c" stroke="#fff" stroke-width="0.89" style="font-style:italic;">I</text></g>
<g transform="matrix(0.25854 0 0 0.23433 -51.715 606.706)"><text x="2200" y="1400" font-size="100" fill="#e8474c" stroke="#fff" stroke-width="0.73" style="">2</text></g>
<g transform="matrix(0.25526 0 0 0.18958 -121.079 683.794)"><text x="2500" y="1400" font-size="100" fill="#e8474c" stroke="#fff" stroke-width="0.39" style="">c</text></g>
<g transform="matrix(0.40541 0 0 0.35000 -549.735 454.550)"><text x="2800" y="1400" font-size="100" fill="#e8474c" stroke="#fff" stroke-width="0.93" style="font-style:italic;">I</text></g>
<g transform="matrix(0.24468 0 0 0.23788 575.443 530.368)"><text x="100" y="1700" font-size="100" fill="#e8474c" stroke="#fff" stroke-width="0.74" style="">4</text></g>
<g transform="matrix(0.26053 0 0 0.21458 495.147 585.294)"><text x="400" y="1700" font-size="100" fill="#e8474c" stroke="#fff" stroke-width="0.37" style="">c</text></g>
<g transform="matrix(0.45000 0 0 0.33788 192.950 550.968)"><text x="700" y="1700" font-size="100" fill="#5889b4" stroke="#fff" stroke-width="0.85" style="font-style:italic;">B</text></g>
<g transform="matrix(0.26286 0 0 0.22121 271.577 739.639)"><text x="1000" y="1700" font-size="100" fill="#5889b4" stroke="#fff" stroke-width="0.64" style="">1</text></g>
<g transform="matrix(0.25641 0 0 0.23261 202.923 735.565)"><text x="1300" y="1700" font-size="100" fill="#5889b4" stroke="#fff" stroke-width="0.36" style="font-style:italic;">z</text></g>
<g transform="matrix(0.45000 0 0 0.33788 -140.650 550.968)"><text x="1600" y="1700" font-size="100" fill="#5889b4" stroke="#fff" stroke-width="0.85" style="font-style:italic;">B</text></g>
<g transform="matrix(0.22979 0 0 0.22121 170.345 739.418)"><text x="1900" y="1700" font-size="100" fill="#5889b4" stroke="#fff" stroke-width="0.68" style="">4</text></g>
<g transform="matrix(0.27692 0 0 0.23261 -1.554 735.565)"><text x="2200" y="1700" font-size="100" fill="#5889b4" stroke="#fff" stroke-width="0.34" style="font-style:italic;">z</text></g>
<g transform="matrix(0.45517 0 0 0.34091 -949.486 642.614)"><text x="2500" y="1700" font-size="100" fill="#e8474c" stroke="#fff" stroke-width="0.85" style="font-style:italic;">B</text></g>
<g transform="matrix(0.24390 0 0 0.22836 -467.102 824.563)"><text x="2800" y="1700" font-size="100" fill="#e8474c" stroke="#fff" stroke-width="0.72" style="">2</text></g>
<g transform="matrix(0.26923 0 0 0.21739 189.346 792.817)"><text x="100" y="2000" font-size="100" fill="#e8474c" stroke="#fff" stroke-width="0.36" style="font-style:italic;">z</text></g>
<g transform="matrix(0.45000 0 0 0.34091 80.150 540.341)"><text x="400" y="2000" font-size="100" fill="#e8474c" stroke="#fff" stroke-width="0.86" style="font-style:italic;">B</text></g>
<g transform="matrix(0.28293 0 0 0.22836 87.937 756.055)"><text x="700" y="2000" font-size="100" fill="#e8474c" stroke="#fff" stroke-width="0.67" style="">3</text></g>
<g transform="matrix(0.26923 0 0 0.21739 18.038 792.817)"><text x="1000" y="2000" font-size="100" fill="#e8474c" stroke="#fff" stroke-width="0.36" style="font-style:italic;">z</text></g>
<g transform="matrix(0.35693 0 0 0.33529 -123.227 831.141)"><text x="1300" y="2000" font-size="100" fill="#808080" stroke="#fff" stroke-width="1.00" style="">158</text></g>
<g transform="matrix(0.25000 0 0 0.23000 -4.650 1035.280)"><text x="1600" y="2000" font-size="100" fill="#808080" stroke="#fff" stroke-width="0.36" style="">°</text></g>
<g transform="matrix(0.36170 0 0 0.33529 -28.943 831.141)"><text x="1900" y="2000" font-size="100" fill="#808080" stroke="#fff" stroke-width="0.99" style="">338</text></g>
<g transform="matrix(0.26667 0 0 0.22000 126.300 1055.120)"><text x="2200" y="2000" font-size="100" fill="#808080" stroke="#fff" stroke-width="0.36" style="">°</text></g>
<g transform="matrix(0.37778 0 0 0.32308 -894.278 -468.485)"><text x="2500" y="2000" font-size="100" fill="#1a1a1a" stroke="#fff" stroke-width="1.00" style="" transform="rotate(-90 2500 2000)">)</text></g>
<g transform="matrix(0.36515 0 0 0.34648 -972.624 -487.111)"><text x="2800" y="2000" font-size="100" fill="#1a1a1a" stroke="#fff" stroke-width="0.98" style="" transform="rotate(-90 2800 2000)">A</text></g>
<g transform="matrix(0.33582 0 0 0.33810 16.966 -551.114)"><text x="100" y="2300" font-size="100" fill="#1a1a1a" stroke="#fff" stroke-width="1.00" style="" transform="rotate(-90 100 2300)">μ</text></g>
<g transform="matrix(0.37778 0 0 0.31923 -100.944 -496.654)"><text x="400" y="2300" font-size="100" fill="#1a1a1a" stroke="#fff" stroke-width="1.00" style="" transform="rotate(-90 400 2300)">(</text></g>
<g transform="matrix(0.22917 0 0 0.26316 -105.646 -330.211)"><text x="700" y="2300" font-size="100" fill="#1a1a1a" stroke="#fff" stroke-width="0.36" style="" transform="rotate(-90 700 2300)">c</text></g>
<g transform="matrix(0.35000 0 0 0.40000 -300.550 -631.200)"><text x="1000" y="2300" font-size="100" fill="#1a1a1a" stroke="#fff" stroke-width="0.93" style="font-style:italic;" transform="rotate(-90 1000 2300)">I</text></g>
<g transform="matrix(0.36889 0 0 0.31923 -433.602 -65.273)"><text x="1300" y="2300" font-size="100" fill="#1a1a1a" stroke="#fff" stroke-width="1.02" style="" transform="rotate(-90 1300 2300)">)</text></g>
<g transform="matrix(0.35455 0 0 0.34648 -521.573 -99.355)"><text x="1600" y="2300" font-size="100" fill="#1a1a1a" stroke="#fff" stroke-width="1.00" style="" transform="rotate(-90 1600 2300)">A</text></g>
<g transform="matrix(0.33134 0 0 0.32143 -582.810 -21.714)"><text x="1900" y="2300" font-size="100" fill="#1a1a1a" stroke="#fff" stroke-width="1.02" style="" transform="rotate(-90 1900 2300)">μ</text></g>
<g transform="matrix(0.36889 0 0 0.35769 -765.602 -93.262)"><text x="2200" y="2300" font-size="100" fill="#1a1a1a" stroke="#fff" stroke-width="0.96" style="" transform="rotate(-90 2200 2300)">(</text></g>
<g transform="matrix(0.22708 0 0 0.25263 -517.035 184.658)"><text x="2500" y="2300" font-size="100" fill="#1a1a1a" stroke="#fff" stroke-width="0.36" style="" transform="rotate(-90 2500 2300)">c</text></g>
<g transform="matrix(0.35455 0 0 0.41316 -947.282 -169.776)"><text x="2800" y="2300" font-size="100" fill="#1a1a1a" stroke="#fff" stroke-width="0.91" style="font-style:italic;" transform="rotate(-90 2800 2300)">I</text></g>
<g transform="matrix(0.35455 0 0 0.43448 10.245 -306.952)"><text x="100" y="2600" font-size="100" fill="#1a1a1a" stroke="#fff" stroke-width="0.89" style="" transform="rotate(-90 100 2600)">Δ</text></g>
<g transform="matrix(0.37000 0 0 0.31923 -119.570 370.958)"><text x="400" y="2600" font-size="100" fill="#1a1a1a" stroke="#fff" stroke-width="1.02" style="" transform="rotate(-90 400 2600)">)</text></g>
<g transform="matrix(0.34923 0 0 0.41695 -216.462 145.449)"><text x="700" y="2600" font-size="100" fill="#1a1a1a" stroke="#fff" stroke-width="0.91" style="" transform="rotate(-90 700 2600)">T</text></g>
<g transform="matrix(0.28511 0 0 0.38933 -257.106 249.112)"><text x="1000" y="2600" font-size="100" fill="#1a1a1a" stroke="#fff" stroke-width="1.04" style="" transform="rotate(-90 1000 2600)">m</text></g>
<g transform="matrix(0.37000 0 0 0.35769 -452.570 343.731)"><text x="1300" y="2600" font-size="100" fill="#1a1a1a" stroke="#fff" stroke-width="0.96" style="" transform="rotate(-90 1300 2600)">(</text></g>
<g transform="matrix(0.24130 0 0 0.28462 -352.187 558.315)"><text x="1600" y="2600" font-size="100" fill="#1a1a1a" stroke="#fff" stroke-width="0.33" style="font-style:italic;" transform="rotate(-90 1600 2600)">z</text></g>
<g transform="matrix(0.34394 0 0 0.42241 -625.829 228.147)"><text x="1900" y="2600" font-size="100" fill="#1a1a1a" stroke="#fff" stroke-width="0.91" style="font-style:italic;" transform="rotate(-90 1900 2600)">B</text></g>
<g transform="matrix(0.35303 0 0 0.44310 -748.667 205.760)"><text x="2200" y="2600" font-size="100" fill="#1a1a1a" stroke="#fff" stroke-width="0.88" style="" transform="rotate(-90 2200 2600)">Δ</text></g>
<g transform="matrix(0.36905 0 0 0.33521 -491.664 744.915)"><text x="2500" y="2600" font-size="100" fill="#1a1a1a" stroke="#fff" stroke-width="0.99" style="font-style:italic;">θ</text></g>
<g transform="matrix(0.36154 0 0 0.38889 -548.854 606.922)"><text x="2800" y="2600" font-size="100" fill="#1a1a1a" stroke="#fff" stroke-width="0.93" style="">(</text></g>
<g transform="matrix(0.23667 0 0 0.23333 454.150 933.533)"><text x="100" y="2900" font-size="100" fill="#1a1a1a" stroke="#fff" stroke-width="0.37" style="">°</text></g>
<g transform="matrix(0.36538 0 0 0.38889 343.550 490.256)"><text x="400" y="2900" font-size="100" fill="#1a1a1a" stroke="#fff" stroke-width="0.93" style="">)</text></g>
<line x1="284.9" y1="59.1" x2="284.9" y2="92.6" stroke="#6fbd6e" stroke-width="1.5"/>
<line x1="326.6" y1="59.1" x2="326.6" y2="92.6" stroke="#6fbd6e" stroke-width="1.5"/>
<line x1="264.9" y1="236.6" x2="264.9" y2="269.6" stroke="#e8474c" stroke-width="1.5"/>
<line x1="306.2" y1="236.6" x2="306.2" y2="269.6" stroke="#e8474c" stroke-width="1.5"/>
<line x1="617" y1="67.4" x2="617" y2="100.5" stroke="#5889b4" stroke-width="1.5"/>
<line x1="658.7" y1="67.4" x2="658.7" y2="100.5" stroke="#5889b4" stroke-width="1.5"/>
<line x1="584.9" y1="250.3" x2="584.9" y2="283.4" stroke="#fd9a34" stroke-width="1.5"/>
<line x1="626.2" y1="250.3" x2="626.2" y2="283.4" stroke="#fd9a34" stroke-width="1.5"/>
<line x1="502.8" y1="543.3" x2="502.8" y2="576.9" stroke="#5889b4" stroke-width="1.5"/>
<line x1="544" y1="543.3" x2="544" y2="576.9" stroke="#5889b4" stroke-width="1.5"/>
<line x1="585.6" y1="543.3" x2="585.6" y2="576.9" stroke="#5889b4" stroke-width="1.5"/>
<line x1="626.7" y1="543.3" x2="626.7" y2="576.9" stroke="#5889b4" stroke-width="1.5"/>
<line x1="554.1" y1="559.8" x2="576.2" y2="559.8" stroke="#5889b4" stroke-width="1.5"/>
<line x1="494.2" y1="919.7" x2="494.2" y2="952.5" stroke="#e8474c" stroke-width="1.5"/>
<line x1="535.8" y1="919.7" x2="535.8" y2="952.5" stroke="#e8474c" stroke-width="1.5"/>
<line x1="577" y1="919.7" x2="577" y2="952.5" stroke="#e8474c" stroke-width="1.5"/>
<line x1="618.5" y1="919.7" x2="618.5" y2="952.5" stroke="#e8474c" stroke-width="1.5"/>
<line x1="545.5" y1="936.2" x2="567.7" y2="936.2" stroke="#e8474c" stroke-width="1.5"/>
<line x1="551.4" y1="1117.3" x2="573.7" y2="1117.3" stroke="#5889b4" stroke-width="1.5"/>
<line x1="232.2" y1="1213.8" x2="253.7" y2="1213.8" stroke="#e8474c" stroke-width="1.5"/>
<line x1="82.7" y1="910.2" x2="104.9" y2="910.2" stroke="#1a1a1a" stroke-width="1.6"/>
<line x1="24.6" y1="256.7" x2="57.6" y2="256.7" stroke="#1a1a1a" stroke-width="1.5"/>
<line x1="24.6" y1="297.0" x2="57.6" y2="297.0" stroke="#1a1a1a" stroke-width="1.5"/>
<line x1="20.3" y1="748.5" x2="53.8" y2="748.5" stroke="#1a1a1a" stroke-width="1.5"/>
<line x1="20.3" y1="788.5" x2="53.8" y2="788.5" stroke="#1a1a1a" stroke-width="1.5"/>
</svg></body></html>
